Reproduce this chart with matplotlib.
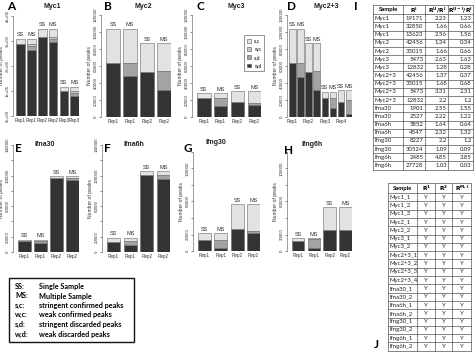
import matplotlib
matplotlib.use('Agg')
import matplotlib.pyplot as plt
from matplotlib.patches import Patch, Rectangle
import numpy as np

W, H = 474, 356

# colours of the four peak classes (bottom -> top of each bar)
COLORS = {'wd': '#333333', 'sd': '#a3a3a3', 'wc': '#c6c6c6', 'sc': '#e2e2e2'}

# --- data ----------------------------------------------------------------
sample_tags = ['SS', 'MS']

myc1_reps = ['Rep1', 'Rep1', 'Rep2', 'Rep2', 'Rep3', 'Rep3']
myc1_wd = [290000, 265000, 317000, 295000, 100000, 80000]
myc1_sd = [0, 15000, 0, 15000, 0, 12000]
myc1_wc = [0, 10000, 0, 5000, 0, 10000]
myc1_sc = [20000, 20000, 33000, 35000, 17000, 15000]

myc2_reps = ['Rep1', 'Rep1', 'Rep2', 'Rep2']
myc2_wd = [63000, 48000, 53300, 31800]
myc2_sd = [0, 16000, 0, 22700]
myc2_wc = [0, 0, 0, 0]
myc2_sc = [41000, 40000, 33400, 32200]

myc3_reps = ['Rep1', 'Rep1', 'Rep2', 'Rep2']
myc3_wd = [22000, 13300, 18000, 14000]
myc3_sd = [0, 8700, 0, 3000]
myc3_wc = [0, 0, 0, 0]
myc3_sc = [5900, 5900, 12600, 13600]

myc23_reps = ['Rep1', '', 'Rep2', '', 'Rep3', '', 'Rep4', '']
myc23_wd = [63000, 46700, 53300, 31800, 22000, 10200, 18000, 4000]
myc23_sd = [0, 16300, 0, 22200, 0, 11800, 0, 16000]
myc23_wc = [0, 0, 0, 0, 0, 0, 0, 0]
myc23_sc = [41000, 41000, 33400, 32700, 8000, 8000, 13800, 11800]

ifn_reps = ['Rep1', 'Rep1', 'Rep2', 'Rep2']
ifna30_wd = [14500, 12000, 96500, 94000]
ifna30_sd = [0, 2500, 0, 3000]
ifna30_wc = [0, 0, 0, 0]
ifna30_sc = [1500, 1500, 3000, 2500]

ifna6h_wd = [12700, 9200, 100800, 95500]
ifna6h_sd = [0, 4800, 0, 5000]
ifna6h_wc = [0, 0, 0, 0]
ifna6h_sc = [6000, 4700, 5200, 5500]

ifng30_wd = [13300, 4000, 26700, 22000]
ifng30_sd = [0, 9300, 0, 2000]
ifng30_wc = [0, 0, 0, 0]
ifng30_sc = [8500, 8500, 30300, 33000]

ifng6h_wd = [12500, 3500, 25500, 25000]
ifng6h_sd = [0, 10800, 0, 500]
ifng6h_wc = [0, 0, 0, 0]
ifng6h_sc = [3300, 1500, 28200, 28200]

legend_keys = ['s,c', 'w,c', 's,d', 'w,d']

# table I
tabI_header = [r'$\mathbf{R^{I}}$', r'$\mathbf{R^{U}/R^{I}}$', r'$\mathbf{R^{U-I}/R^{I}}$']
tabI_samples = ['Myc1', 'Myc1', 'Myc1', 'Myc2', 'Myc2', 'Myc3', 'Myc3',
                'Myc2+3', 'Myc2+3', 'Myc2+3', 'Myc2+3', 'Ifna30', 'Ifna30',
                'Ifna6h', 'Ifna6h', 'Ifng30', 'Ifng30', 'Ifng6h', 'Ifng6h']
tabI_ri = ['19171', '32850', '13623', '42456', '33015', '5473', '12832',
           '42456', '33015', '5473', '12832', '1901', '2527', '5852', '4547',
           '8227', '30524', '2485', '27728']
tabI_ratio = ['2.23', '1.66', '2.56', '1.34', '1.66', '2.63', '1.28', '1.37',
              '1.68', '3.31', '2.2', '2.55', '2.22', '1.64', '2.32', '2.2',
              '1.09', '4.85', '1.03']
tabI_diff = ['1.23', '0.66', '1.56', '0.34', '0.66', '1.63', '0.28', '0.37',
             '0.68', '2.31', '1.2', '1.55', '1.22', '0.64', '1.32', '1.2',
             '0.09', '3.85', '0.03']

# table J
tabJ_header = [r'$\mathbf{R^{1}}$', r'$\mathbf{R^{2}}$', r'$\mathbf{R^{M,I}}$']
tabJ_samples = ['Myc1_1', 'Myc1_2', 'Myc1_3', 'Myc2_1', 'Myc2_2', 'Myc3_1',
                'Myc3_2', 'Myc2+3_1', 'Myc2+3_2', 'Myc2+3_3', 'Myc2+3_4',
                'Ifna30_1', 'Ifna30_2', 'Ifna6h_1', 'Ifna6h_2', 'Ifng30_1',
                'Ifng30_2', 'Ifng6h_1', 'Ifng6h_2']
tabJ_flags = ['Y'] * len(tabJ_samples)

key_short = ['SS:', 'MS:', 's,c:', 'w,c:', 's,d:', 'w,d:']
key_long = ['Single Sample', 'Multiple Sample', 'stringent confirmed peaks',
            'weak confirmed peaks', 'stringent discarded peaks',
            'weak discarded peaks']

plt.rcParams['font.family'] = ['Liberation Sans', 'DejaVu Sans']


def box(l, t, r, b):
    return [l / W, 1 - b / H, (r - l) / W, (b - t) / H]


def stacked(ax, layers, reps, ytop, yticks, ylabels, tag_pad):
    n = len(reps)
    x = np.arange(n)
    bottom = np.zeros(n)
    for key, vals in layers:
        ax.bar(x, vals, 0.8, bottom=bottom, color=COLORS[key],
               edgecolor='#666666', linewidth=0.4)
        bottom = bottom + np.asarray(vals)
    for i in range(n):
        ax.text(i, bottom[i] + ytop * tag_pad, sample_tags[i % 2], ha='center',
                va='bottom', fontsize=4, color='#333333')
    ax.set_xlim(-0.7, n - 0.6)
    ax.set_ylim(0, ytop)
    ax.set_xticks(x)
    ax.set_xticklabels(reps, fontsize=3.3)
    ax.tick_params(axis='x', length=0, pad=1.5, colors='#333333')
    ax.set_yticks(yticks)
    ax.set_yticklabels(ylabels, fontsize=3.2, rotation=90, va='center')
    ax.tick_params(axis='y', length=1.5, width=0.4, pad=1, colors='#333333')
    for s in ['top', 'right', 'bottom']:
        ax.spines[s].set_visible(False)
    ax.spines['left'].set_linewidth(0.4)
    ax.spines['left'].set_color('#555555')
    ax.set_ylabel('Number of peaks', fontsize=3.6, labelpad=1, color='#333333')


fig = plt.figure(figsize=(W / 100, H / 100), dpi=100)

t120 = list(range(0, 120001, 20000))
t140 = list(range(0, 140001, 20000))
lab120 = [str(v) for v in t120]
lab140_sparse = [str(v) if v in (0, 20000, 60000, 100000, 140000) else '' for v in t140]
lab120_sparse = [str(v) if v in (0, 20000, 60000, 100000) else '' for v in t120]
t4e5 = [0, 100000, 200000, 300000, 400000]
lab4e5 = ['0e+00', '1e+05', '2e+05', '3e+05', '4e+05']

panels = [
    ('A', 'Myc1', (13, 16, 79, 116), (myc1_wd, myc1_sd, myc1_wc, myc1_sc), myc1_reps, 400000, t4e5, lab4e5, (52, 6)),
    ('B', 'Myc2', (101, 15, 171, 117), (myc2_wd, myc2_sd, myc2_wc, myc2_sc), myc2_reps, 120000, t120, lab120, (143, 6)),
    ('C', 'Myc3', (192, 15, 261, 117), (myc3_wd, myc3_sd, myc3_wc, myc3_sc), myc3_reps, 120000, t120, lab120, (236, 6)),
    ('D', 'Myc2+3', (287, 15, 352, 117), (myc23_wd, myc23_sd, myc23_wc, myc23_sc), myc23_reps, 120000, t120, lab120, (326, 6)),
    ('E', 'Ifna30', (13, 145, 79, 252), (ifna30_wd, ifna30_sd, ifna30_wc, ifna30_sc), ifn_reps, 140000, t140, lab140_sparse, (45, 145)),
    ('F', 'Ifna6h', (102, 145, 170, 252), (ifna6h_wd, ifna6h_sd, ifna6h_wc, ifna6h_sc), ifn_reps, 140000, t140, lab140_sparse, (134, 145)),
    ('G', 'Ifng30', (193, 152, 260, 251), (ifng30_wd, ifng30_sd, ifng30_wc, ifng30_sc), ifn_reps, 120000, t120, lab120_sparse, (216, 143)),
    ('H', 'Ifng6h', (287, 152, 352, 251), (ifng6h_wd, ifng6h_sd, ifng6h_wc, ifng6h_sc), ifn_reps, 120000, t120, lab120_sparse, (312, 145)),
]
letter_pos = {'A': (11, 6), 'B': (108, 6), 'C': (200, 6), 'D': (292, 6),
              'E': (18, 148), 'F': (107, 148), 'G': (188, 149), 'H': (289, 150)}

axes = {}
for letter, title, pbox, (wd, sd, wc, sc), reps, ytop, yt, yl, tpos in panels:
    ax = fig.add_axes(box(*pbox))
    pad = 0.012 if letter != 'A' else 0.02
    stacked(ax, [('wd', wd), ('sd', sd), ('wc', wc), ('sc', sc)], reps, ytop, yt, yl, pad)
    axes[letter] = ax
    fig.text(tpos[0] / W, 1 - tpos[1] / H, title, fontsize=5, fontweight='bold',
             ha='center', va='center', color='#222222')

# legend inside panel C
handles = [Patch(facecolor=COLORS[k], edgecolor='#555555', linewidth=0.4)
           for k in ['sc', 'wc', 'sd', 'wd']]
leg = axes['C'].legend(handles, legend_keys, loc='upper left',
                       bbox_to_anchor=(242 / W, 1 - 33 / H),
                       bbox_transform=fig.transFigure, fontsize=3.4,
                       handlelength=0.9, handleheight=0.9, handletextpad=0.6,
                       borderpad=0.6, labelspacing=0.7, fancybox=False,
                       framealpha=1, edgecolor='#444444')
leg.get_frame().set_linewidth(0.4)

# overlay axes in pixel units for letters, tables and the key box
bg = fig.add_axes([0, 0, 1, 1], zorder=5)
bg.set_xlim(0, W)
bg.set_ylim(H, 0)
bg.axis('off')

for letter, (lx, ly) in letter_pos.items():
    bg.text(lx, ly, letter, fontsize=8.5, fontweight='bold', family='Lato',
            ha='center', va='center')
bg.text(356, 6, 'I', fontsize=8.5, fontweight='bold', family='Lato', ha='center', va='center')
bg.text(376, 344, 'J', fontsize=8.5, fontweight='bold', family='Lato', ha='center', va='center')


def draw_table(xs, top, head_h, row_h, header, columns, aligns, fs):
    nrow = len(columns[0])
    ys = [top, top + head_h] + [top + head_h + row_h * (i + 1) for i in range(nrow)]
    for y in ys:
        bg.plot([xs[0], xs[-1]], [y, y], color='#555555', lw=0.5)
    for x in xs:
        bg.plot([x, x], [ys[0], ys[-1]], color='#555555', lw=0.5)
    for j, h in enumerate(['Sample'] + header):
        bg.text((xs[j] + xs[j + 1]) / 2, top + head_h / 2 + 0.5, h, fontsize=fs,
                fontweight='bold', ha='center', va='center', family='Lato')
    for j, col in enumerate(columns):
        for i, v in enumerate(col):
            yc = top + head_h + row_h * (i + 0.5)
            if aligns[j] == 'left':
                xc = xs[j] + 1.5
            elif aligns[j] == 'right':
                xc = xs[j + 1] - 1.5
            else:
                xc = (xs[j] + xs[j + 1]) / 2
            bg.text(xc, yc, v, fontsize=fs, ha=aligns[j], va='center',
                    family='Lato', color='#222222')


draw_table([373.5, 403.5, 425, 448.5, 473], 4.5, 9.7, 8.18, tabI_header,
           [tabI_samples, tabI_ri, tabI_ratio, tabI_diff],
           ['left', 'right', 'right', 'right'], 4.3)
draw_table([388.5, 417.5, 435, 452, 471.5], 182.5, 10.5, 8.3, tabJ_header,
           [tabJ_samples, tabJ_flags, tabJ_flags, tabJ_flags],
           ['left', 'center', 'center', 'center'], 4.3)

# key box
bg.add_patch(Rectangle((9.5, 278), 124.5, 64, fill=False, lw=1.0, edgecolor='#111111'))
for i, (a, b) in enumerate(zip(key_short, key_long)):
    y = 286.5 + i * 9.5
    bg.text(15, y, a, fontsize=5.2, fontweight='bold', family='Lato', va='center')
    bg.text(39, y, b, fontsize=5.2, fontweight='bold', family='Lato', va='center')

fig.savefig('out.png', dpi=100)
